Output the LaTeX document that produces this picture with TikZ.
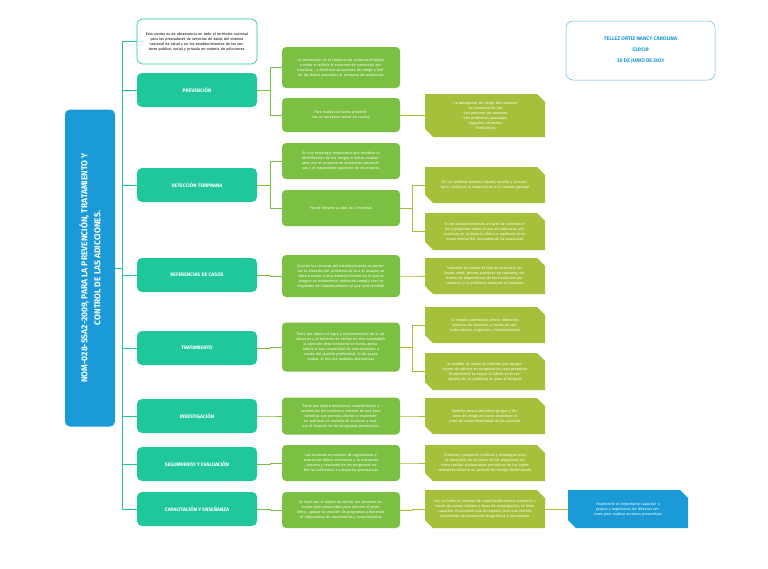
\documentclass[tikz,border=0pt]{standalone}
\usepackage{fontspec}
\setmainfont{Fira Sans}
\usetikzlibrary{shapes.misc}
\definecolor{teal1}{HTML}{1FC79A}
\definecolor{grn}{HTML}{7CC043}
\definecolor{olv}{HTML}{A5C13B}
\definecolor{blu}{HTML}{1A9BD7}
\begin{document}
\begin{tikzpicture}[x=1pt,y=-1pt,
 cat/.style={fill=teal1,rounded corners=5pt,minimum width=120pt,minimum height=34pt,text=white,font=\fontsize{5}{6}\selectfont\bfseries,align=center},
 l2/.style={fill=grn,rounded corners=4pt,minimum width=118pt,text width=98pt,text=white,font=\fontsize{3.7}{5}\selectfont,align=center,inner sep=3pt},
 l3/.style={fill=olv,chamfered rectangle,chamfered rectangle corners={north east,south west},chamfered rectangle xsep=4pt,chamfered rectangle ysep=4pt,minimum width=120pt,text width=102pt,text=white,font=\fontsize{3.7}{5}\selectfont,align=center,inner sep=3pt},
 tl/.style={draw=teal1,line width=0.8pt},
 gl/.style={draw=grn,line width=0.8pt},
 ol/.style={draw=olv,line width=0.8pt}]
\useasboundingbox (0,0) rectangle (768,568);
\fill[white] (0,0) rectangle (768,568);
% root
\node[fill=blu,rounded corners=5pt,minimum width=317pt,minimum height=50pt,rotate=90,text=white,align=center,font=\fontsize{8.5}{13}\selectfont\bfseries] (root) at (90,268) {NOM-028-SSA2-2009, PARA LA PREVENCIÓN, TRATAMIENTO Y\\CONTROL DE LAS ADICCIONES.};
\coordinate (tr) at (122,268);
\node[draw=teal1,rounded corners=6pt,minimum width=120pt,minimum height=45pt,text width=106pt,align=center,font=\fontsize{3.7}{5}\selectfont,inner sep=2pt,line width=0.6pt] (intro) at (197,41.5) {Esta norma es de observancia en todo el territorio nacional para los prestadores de servicios de salud del sistema nacional de salud y en los establecimientos de los sectores publico, social y privado en materia de adicciones.};
\node[cat] (c1) at (197,90) {PREVENCIÓN};
\node[cat] (c2) at (197,185) {DETECCIÓN TEMPRANA};
\node[cat] (c3) at (197,275) {REFERENCIAS DE CASOS};
\node[cat] (c4) at (197,348) {TRATAMIENTO};
\node[cat] (c5) at (197,416) {INVESTIGACIÓN};
\node[cat] (c6) at (197,464) {SEGUIMIENTO Y EVALUACIÓN};
\node[cat] (c7) at (197,509) {CAPACITACIÓN Y ENSEÑANZA};
\draw[tl] (root.south) -- (tr);
\foreach \n in {intro,c1,c2,c3,c4,c5,c6,c7} \draw[tl] (tr) |- (\n.west);
% level 2
\node[l2,minimum height=41pt] (p1) at (341,67.5) {La prevención es el conjunto de acciones dirigidas a evitar o reducir el consumo de sustancias psicoactivas , a disminuir situaciones de riesgo y limitar los daños asociados al consumo de sustancias.};
\node[l2,minimum height=34pt] (p2) at (341,115) {Para realizar acciones preventivas es necesario tomar en cuenta};
\node[l2,minimum height=36pt] (d1) at (341,161) {Es una estrategia terapéutica que combina la identificación de los riesgos o daños ocasionados por el consumo de sustancias psicoactivas y el tratamiento oportuno de los mismos};
\node[l2,minimum height=36pt] (d2) at (341,208) {Puede llevarse a cabo de 2 maneras};
\node[l2,minimum height=42pt] (r2) at (341,276) {Cuando los recursos del establecimiento no permitan la atención del problema de la o el usuario, se deberá enviar a otro establecimiento en el que se asegure su tratamiento, debiendo cumplir con los requisitos del establecimiento al que será remitido};
\node[l2,minimum height=49pt] (t2) at (341,347) {Tiene por objeto el logro y mantenimiento de la abstinencia y el fomento de estilos de vida saludables.\\la atención debe brindarse en forma ambulatoria o bajo modalidad de internamiento a través del modelo profesional, el de ayuda mutua, el mix tos modelos alternativos};
\node[l2,minimum height=37pt] (i2) at (341,416) {Tiene por objeto determinar características y tendencias del problema, proveer de una base científica que permita diseñar e implementar políticas en materia de acciones  y evaluar el impacto de los programas preventivos.};
\node[l2,minimum height=36pt] (s2) at (341,463) {Las acciones en materia de seguimiento y evaluación deben orientarse a la estructura , proceso y resultado de los programas sobre las adicciones o sustancias psicoactivas};
\node[l2,minimum height=36pt] (k2) at (341,510) {Se hace con el objeto de contar con recursos humanos bien preparados para afrontar el problema , apoyar la creación de programas y fomentar el intercambio de experiencias y conocimientos};
\foreach \a/\b in {c1/p1,c1/p2,c2/d1,c2/d2,c3/r2,c4/t2,c5/i2,c6/s2,c7/k2}
  \draw[gl] (\a.east) -- ++(13,0) |- (\b.west);
% level 3
\node[l3,minimum height=43pt] (p3) at (485,115.5) {-La percepción de riesgo del consumo\\-La sustancia de uso\\-Los patrones de consumo\\-Los problemas asociados\\-Aspectos culturales\\-Tradiciones};
\node[l3,minimum height=36pt] (d3a) at (485,185) {En los ámbitos familiar, laboral, escolar y comunitario, mediante la observación o un sondeo general};
\node[l3,minimum height=37pt] (d3b) at (485,231.5) {En los establecimientos a través de cuestionarios y preguntas sobre el uso de sustancias psicoactivas en la historia clínica o mediante el examen mental del uso indebido de sustancias};
\node[l3,minimum height=36pt] (r3) at (485,276) {Tomando en cuenta el tipo de sustancia utilizada, edad, género, patrones de consumo, síndrome de dependencia de las sustancias psicoactivas y el problema asociado al consumo};
\node[l3,minimum height=36pt] (t3a) at (485,325) {El modelo profesional ofrece diferentes servicios de atención, a través de consulta externa, urgencias y hospitalización};
\node[l3,minimum height=37pt] (t3b) at (485,371.5) {el modelo de ayuda es ofrecido por agrupaciones de adictos en recuperación cuyo propósito fundamental es mayor al adicto en la resolución de su problema le guan al burgada};
\node[l3,minimum height=36pt] (i3) at (485,416) {También busca identificar grupos y factores de riesgo así como establecer el nivel de costo-efectividad de las acciones};
\node[l3,minimum height=36pt] (s3) at (485,463) {Formular y proponer políticas y estrategias para el desarrollo de acciones de los programas así como realizar evaluaciones periódicas de los logros obtenidos durante un periodo de tiempo determinado};
\node[l3,minimum height=38pt] (k3) at (485,509) {Las acciones en materia de capacitación deben realizarse a través de cursos talleres o foros de investigación, se debe capacitar el personal que lo requiera para que efectúe actividades de prevención diagnóstica y tratamiento};
\foreach \a/\b in {p2/p3,d2/d3a,d2/d3b,r2/r3,t2/t3a,t2/t3b,i2/i3,s2/s3,k2/k3}
  \draw[ol] (\a.east) -- ++(12,0) |- (\b.west);
\node[fill=blu,chamfered rectangle,chamfered rectangle corners={north east,south west},chamfered rectangle xsep=4pt,chamfered rectangle ysep=4pt,minimum width=120pt,minimum height=38pt,text width=100pt,text=white,font=\fontsize{3.7}{5}\selectfont,align=center,inner sep=3pt] (fin) at (628,509) {Finalmente es importante capacitar a grupos y organismos de diversos sectores para realizar acciones preventivas};
\draw[ol] (k3.east) -- (fin.west);
% header
\node[draw=blu!70,rounded corners=7pt,minimum width=149pt,minimum height=59pt,align=center,text=blu,font=\fontsize{5.2}{11}\selectfont\bfseries,line width=0.5pt] (hdr) at (640.5,50.5) {TELLEZ ORTIZ NANCY CAROLINA\\530139\\30 DE JUNIO DE 2021};
\end{tikzpicture}
\end{document}
